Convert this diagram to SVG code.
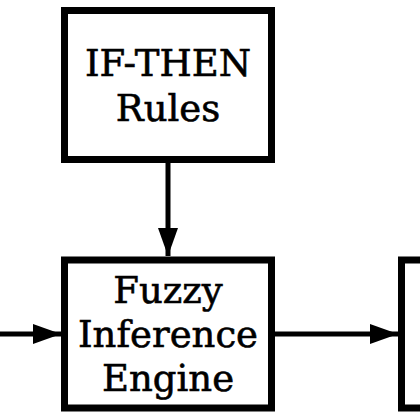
<svg xmlns="http://www.w3.org/2000/svg" width="420" height="420" viewBox="0 0 420 420">
<style>
.box{fill:#fff;stroke:#000;stroke-width:7}
.lbl{font-family:"DejaVu Serif","Liberation Serif",serif;font-size:37px;fill:#000;stroke:#000;stroke-width:0.6;text-anchor:middle}
.con{stroke:#000;stroke-width:5;fill:none}
</style>
<defs>
<marker id="ah" viewBox="0 0 28 20" refX="28" refY="10" markerWidth="28" markerHeight="20" markerUnits="userSpaceOnUse" orient="auto">
<path d="M0,0 L28,10 L0,20 Z" fill="#000"/>
</marker>
</defs>
<rect width="420" height="420" fill="#fff"/>
<g id="connectors">
<line class="con" x1="168" y1="163" x2="168" y2="256" marker-end="url(#ah)"/>
<line class="con" x1="0" y1="334" x2="61" y2="334" marker-end="url(#ah)"/>
<line class="con" x1="275" y1="334" x2="398" y2="334" marker-end="url(#ah)"/>
</g>
<g id="rules">
<rect class="box" x="64.5" y="10.5" width="207" height="149"/>
<text class="lbl" x="168" y="76">IF-THEN</text>
<text class="lbl" x="168" y="121">Rules</text>
</g>
<g id="engine">
<rect class="box" x="64.5" y="260" width="207" height="148"/>
<text class="lbl" x="168" y="303">Fuzzy</text>
<text class="lbl" x="168" y="347">Inference</text>
<text class="lbl" x="168" y="391">Engine</text>
</g>
<g id="output">
<rect class="box" x="401.5" y="260" width="40" height="148"/>
</g>
</svg>
